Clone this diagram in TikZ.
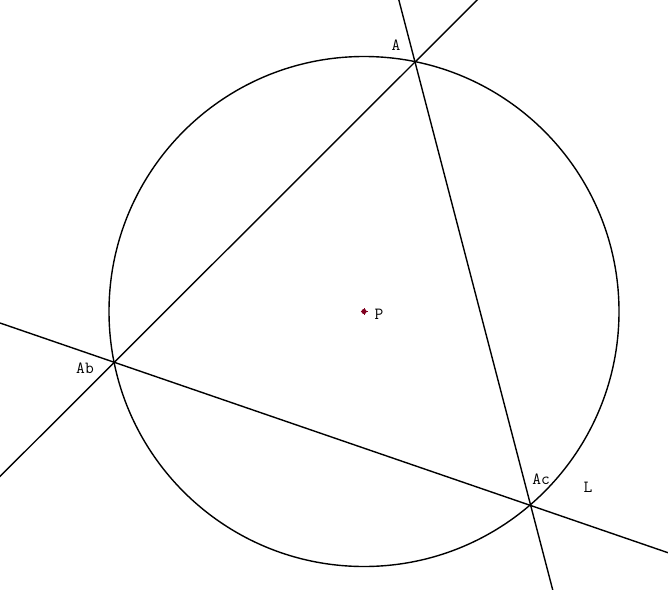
\documentclass[tikz,border=0pt]{standalone}
\usepackage{fontspec}
\usetikzlibrary{calc}
\definecolor{pcol}{RGB}{128,0,32}
\tikzset{
  geo/.style={draw=black, line width=1.4pt},
  lbl/.style={font=\ttfamily\fontsize{17}{19}\selectfont, inner sep=0pt}
}
\begin{document}
\begin{tikzpicture}[x=1pt,y=-1pt]
\useasboundingbox (0,0) rectangle (668,589);
\coordinate (P) at (364,311.5);
\coordinate (A) at (415,62);
\coordinate (Ab) at (114.3,362.3);
\coordinate (Ac) at (530.7,505.5);
\begin{scope}
\clip (0,0) rectangle (668,589);
\draw[geo] (P) circle[radius=255];
\draw[geo] ($(A)!-1.2!(Ab)$) -- ($(Ab)!-1.2!(A)$);
\draw[geo] ($(A)!-1.2!(Ac)$) -- ($(Ac)!-1.2!(A)$);
\draw[geo] ($(Ab)!-1.2!(Ac)$) -- ($(Ac)!-1.2!(Ab)$);
\end{scope}
\fill[pcol] (P) circle[radius=2.6];
\draw[pcol, line width=0.6pt] ($(P)+(-3.5,0)$) -- ($(P)+(3.5,0)$) ($(P)+(0,-3.5)$) -- ($(P)+(0,3.5)$);
\node[lbl] (lA) at (396,45) {A};
\node[lbl] (lAb) at (85,368) {Ab};
\node[lbl] (lAc) at (541,479) {Ac};
\node[lbl] (lL) at (588,487) {L};
\node[lbl] (lP) at (379,314) {P};
\end{tikzpicture}
\end{document}
